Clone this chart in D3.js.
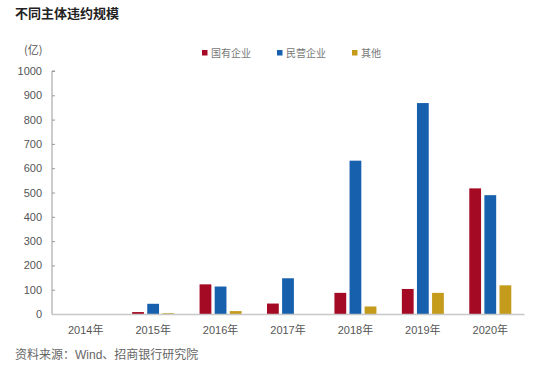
<!DOCTYPE html>
<html>
<head>
<meta charset="utf-8">
<script src="https://cdn.jsdelivr.net/npm/d3@7"></script>
<style>
  body { margin: 0; background: #fff; }
  text { font-family: "Liberation Sans", Arial, "Noto Sans CJK SC", sans-serif; }
</style>
</head>
<body>
<div id="chart"></div>
<script>
// Data (亿)
const years = ["2014年", "2015年", "2016年", "2017年", "2018年", "2019年", "2020年"];
const seriesNames = ["国有企业", "民营企业", "其他"];
const stateOwned = [0, 8, 122, 43, 87, 103, 517];
const privateOwned = [0, 42, 113, 147, 631, 868, 489];
const others = [0, 3, 12, 0, 31, 87, 118];
const yTicks = [0, 100, 200, 300, 400, 500, 600, 700, 800, 900, 1000];
const colors = ["#A50A25", "#1660AD", "#C49B1B"];

const W = 550, H = 371;
const margin = { top: 71, right: 26, bottom: 57, left: 52 },
  width = W - margin.left - margin.right,
  height = H - margin.top - margin.bottom;

const svg = d3.select("#chart")
  .append("svg")
  .attr("width", W)
  .attr("height", H);

// Title
svg.append("text")
  .attr("x", 15).attr("y", 18)
  .style("font-family", "'Noto Sans CJK SC', sans-serif")
  .style("font-size", "13px")
  .style("font-weight", "bold")
  .attr("fill", "#222")
  .text("不同主体违约规模");

// Unit
svg.append("text")
  .attr("x", 24).attr("y", 54)
  .style("font-family", "'Noto Sans CJK SC', sans-serif")
  .style("font-size", "11px")
  .attr("fill", "#555")
  .text("(亿)");

const g = svg.append("g")
  .attr("transform", `translate(${margin.left},${margin.top})`);

const x0 = d3.scaleBand().domain(years).range([0, width]).paddingInner(0).paddingOuter(0);
const x1 = d3.scaleBand().domain(seriesNames).range([0, 42]).paddingInner(0.22);
const y = d3.scaleLinear().domain([0, 1000]).range([height, 0]);

const table = years.map((yr, i) => ({
  year: yr,
  values: [stateOwned[i], privateOwned[i], others[i]]
}));

// Bars
const groups = g.selectAll(".grp")
  .data(table)
  .enter()
  .append("g")
  .attr("class", "grp")
  .attr("transform", d => `translate(${x0(d.year) + (x0.bandwidth() - 42) / 2},0)`);

groups.selectAll("rect")
  .data(d => d.values.map((v, j) => ({ name: seriesNames[j], v: v, c: colors[j] })))
  .enter()
  .append("rect")
  .attr("x", d => x1(d.name))
  .attr("width", x1.bandwidth())
  .attr("y", d => y(d.v))
  .attr("height", d => height - y(d.v))
  .attr("fill", d => d.c);

// Y axis
const yAxis = g.append("g")
  .call(d3.axisRight(y).tickValues(yTicks).tickSize(3).tickFormat(d3.format("d")));
yAxis.select(".domain").attr("stroke", "#999").attr("d", `M3,0H0V${height}`);
yAxis.selectAll(".tick line").attr("stroke", "#999");
yAxis.selectAll(".tick text")
  .attr("x", -10)
  .attr("text-anchor", "end")
  .style("font-size", "11px")
  .attr("fill", "#555");

// X axis
const xAxis = g.append("g")
  .attr("transform", `translate(0,${height})`)
  .call(d3.axisBottom(x0).tickSize(0));
xAxis.select(".domain").attr("stroke", "#c8c8c8").attr("stroke-width", 1.5);
xAxis.selectAll(".tick text")
  .attr("dy", "1.5em")
  .style("font-size", "11px")
  .attr("fill", "#555");

// Legend
const legendX = [202, 277, 352];
const legend = svg.selectAll(".legend")
  .data(seriesNames)
  .enter()
  .append("g")
  .attr("class", "legend")
  .attr("transform", (d, i) => `translate(${legendX[i]},50)`);
legend.append("rect")
  .attr("width", 5.5).attr("height", 5.5)
  .attr("fill", (d, i) => colors[i]);
legend.append("text")
  .attr("x", 9).attr("y", 3).attr("dy", "0.35em")
  .style("font-family", "'Noto Sans CJK SC', sans-serif")
  .style("font-size", "10px")
  .attr("fill", "#777")
  .text(d => d);

// Source
svg.append("text")
  .attr("x", 15).attr("y", 359)
  .style("font-size", "12px")
  .attr("fill", "#666")
  .text("资料来源：Wind、招商银行研究院");
</script>
</body>
</html>
